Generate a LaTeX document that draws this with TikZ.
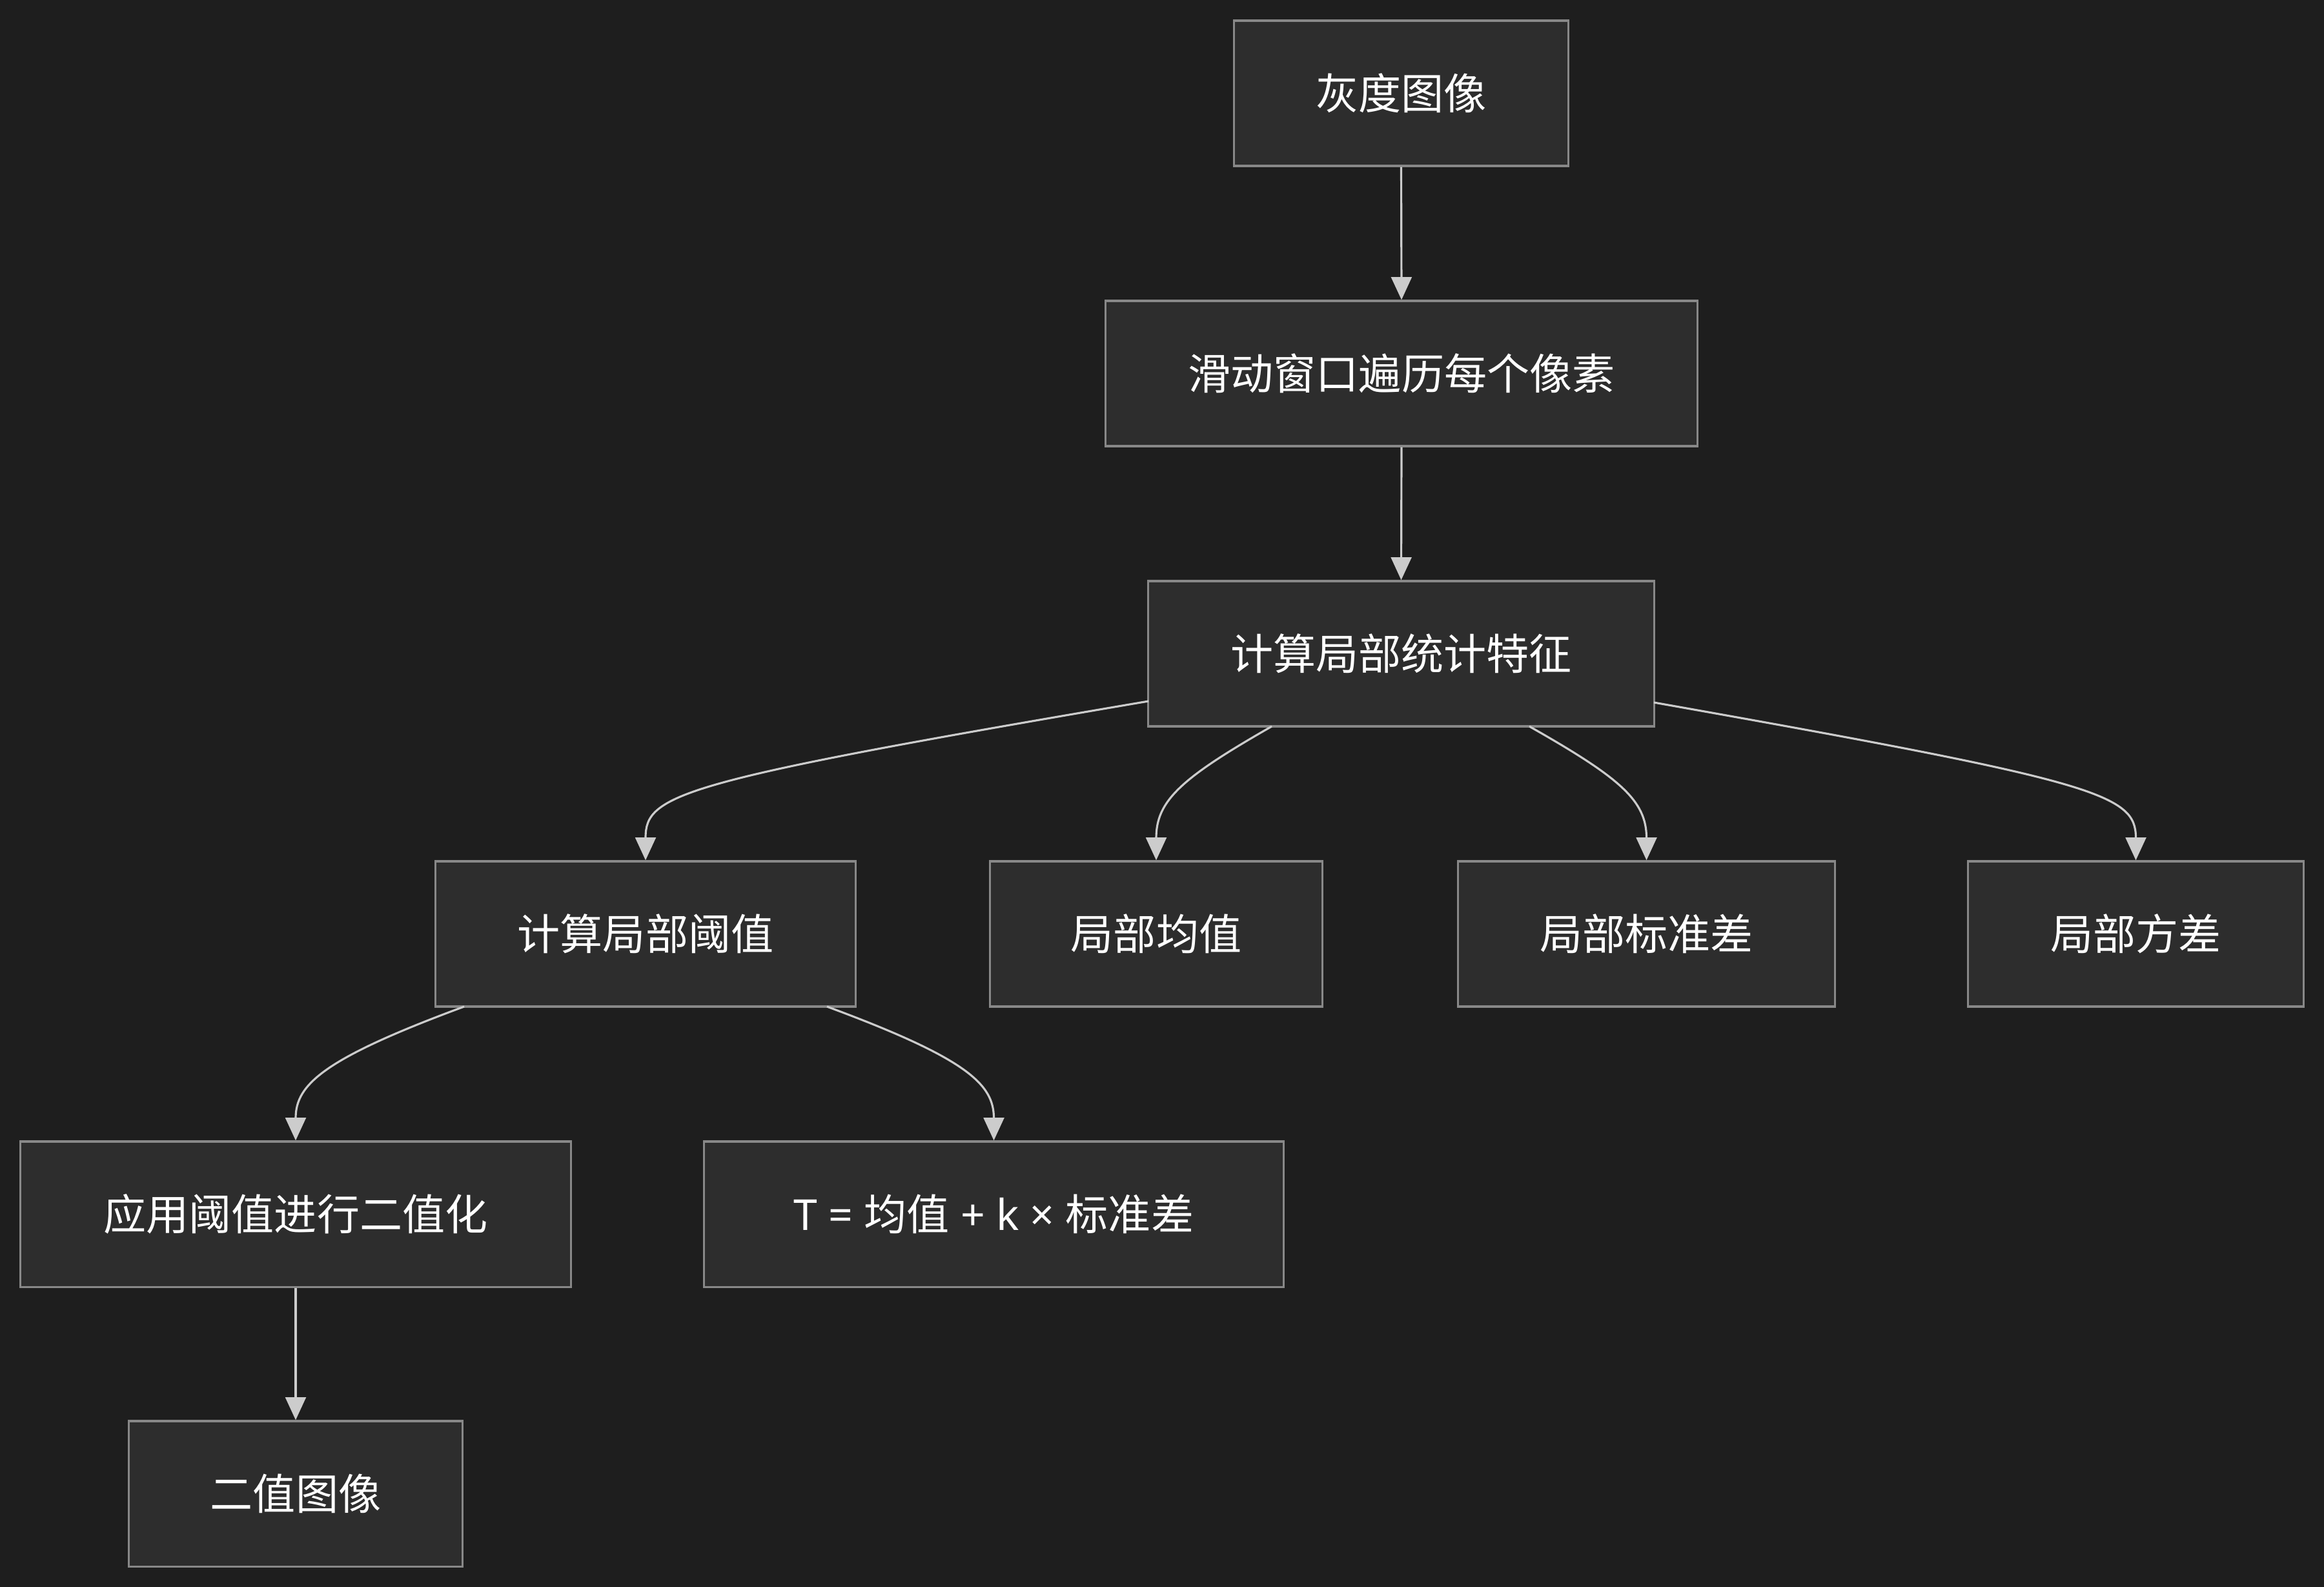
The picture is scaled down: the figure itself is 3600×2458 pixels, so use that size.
\documentclass[tikz,border=0pt]{standalone}
\usepackage{fontspec}
\setmainfont{Noto Sans CJK SC}
\newfontfamily\latinf{Noto Sans}
\usetikzlibrary{arrows.meta}
\definecolor{bgc}{HTML}{1E1E1E}
\definecolor{boxfill}{HTML}{2D2D2D}
\definecolor{boxline}{HTML}{888888}
\definecolor{edgec}{HTML}{CCCCCC}
\begin{document}
\begin{tikzpicture}[x=0.01cm,y=-0.01cm,
  box/.style={draw=boxline,fill=boxfill,line width=0.9pt,text=white,
    minimum height=2.25cm,inner sep=0pt,font=\fontsize{18.8}{22}\selectfont,anchor=center},
  edge/.style={draw=edgec,line width=0.9pt,-{Triangle[length=10pt,width=9pt]}}]
\fill[bgc] (0,0) rectangle (3600,2458);
\useasboundingbox (0,0) rectangle (3600,2458);
\node[box,minimum width=5.17cm] (A) at (2170.5,144.5) {灰度图像};
\node[box,minimum width=9.16cm] (B) at (2171,578.5) {滑动窗口遍历每个像素};
\node[box,minimum width=7.83cm] (C) at (2170.5,1012.5) {计算局部统计特征};
\node[box,minimum width=6.50cm] (D) at (1000,1446.5) {计算局部阈值};
\node[box,minimum width=5.14cm] (E) at (1791,1446.5) {局部均值};
\node[box,minimum width=5.83cm] (F) at (2550.5,1446.5) {局部标准差};
\node[box,minimum width=5.19cm] (G) at (3308.5,1446.5) {局部方差};
\node[box,minimum width=8.52cm] (H) at (458,1880.5) {应用阈值进行二值化};
\node[box,minimum width=8.97cm] (I) at (1539.5,1880.5) {{\latinf T = }均值{\latinf{} + k × }标准差};
\node[box,minimum width=5.16cm] (J) at (458,2313.5) {二值图像};

\draw[edge] (A.south) -- (B.north);
\draw[edge] (B.south) -- (C.north);
\draw[edge] (1779,1086) .. controls (1050,1210) and (1000,1230) .. (D.north);
\draw[edge] (1970,1125) .. controls (1830,1205) and (1791,1240) .. (E.north);
\draw[edge] (2369,1125) .. controls (2510,1205) and (2550.5,1240) .. (F.north);
\draw[edge] (2562,1088) .. controls (3250,1210) and (3308.5,1230) .. (G.north);
\draw[edge] (719,1559) .. controls (500,1640) and (458,1680) .. (H.north);
\draw[edge] (1281,1559) .. controls (1500,1640) and (1539.5,1680) .. (I.north);
\draw[edge] (H.south) -- (J.north);
\end{tikzpicture}
\end{document}
